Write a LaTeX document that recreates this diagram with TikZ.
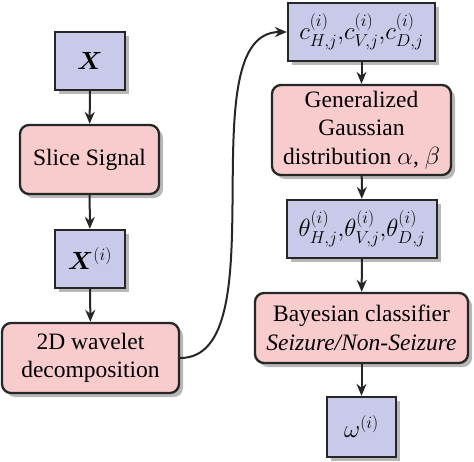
\documentclass[tikz,border=0pt]{standalone}
\usepackage{fontspec}
\setmainfont{Liberation Serif}
\usepackage{amsmath,bm}
\usetikzlibrary{arrows.meta,shadows}
\definecolor{boxblue}{RGB}{201,201,234}
\definecolor{boxred}{RGB}{248,203,205}
\tikzset{
  base/.style={draw=black!85, line width=2.3pt, align=center, inner sep=0pt,
    drop shadow={shadow xshift=4pt, shadow yshift=-4pt, fill=black!35, opacity=0.8},
    font=\fontsize{23.5}{28.3}\selectfont},
  bluebox/.style={base, fill=boxblue},
  redbox/.style={base, fill=boxred, rounded corners=9pt},
  arr/.style={-{Stealth[length=12pt,width=10pt]}, line width=2pt, draw=black!85},
}
\begin{document}
\begin{tikzpicture}[x=1pt,y=-1pt]
\useasboundingbox (0,0) rectangle (474,461);
\node[bluebox, minimum width=70pt, minimum height=58pt] (x) at (90,61) {$\bm{X}$};
\node[redbox, minimum width=139pt, minimum height=69pt] (slice) at (89.5,159.5) {Slice Signal};
\node[bluebox, minimum width=70pt, minimum height=58pt] (xi) at (90,259) {$\bm{X}^{(i)}$};
\node[redbox, minimum width=177pt, minimum height=70pt] (wave) at (90.5,358) {2D wavelet\\decomposition};
\node[bluebox, minimum width=147pt, minimum height=58pt] (c) at (361.5,32) {$c^{(i)}_{H,j}{,}c^{(i)}_{V,j}{,}c^{(i)}_{D,j}$};
\node[redbox, minimum width=179pt, minimum height=90pt] (gg) at (361.5,130) {Generalized\\Gaussian\\distribution $\alpha$, $\beta$};
\node[bluebox, minimum width=150pt, minimum height=58pt] (th) at (362,229) {$\theta^{(i)}_{H,j}{,}\theta^{(i)}_{V,j}{,}\theta^{(i)}_{D,j}$};
\node[redbox, minimum width=213pt, minimum height=70pt] (bay) at (361.5,328) {Bayesian classifier\\\textit{Seizure/Non-Seizure}};
\node[bluebox, minimum width=69pt, minimum height=60pt] (om) at (361.5,427) {$\omega^{(i)}$};
\draw[arr] (x) -- (slice);
\draw[arr] (slice) -- (xi);
\draw[arr] (xi) -- (wave);
\draw[arr] (c) -- (gg);
\draw[arr] (gg) -- (th);
\draw[arr] (th) -- (bay);
\draw[arr] (bay) -- (om);
\draw[arr] (wave.east) to[out=0,in=180,looseness=0.75] (c.west);
\end{tikzpicture}
\end{document}
